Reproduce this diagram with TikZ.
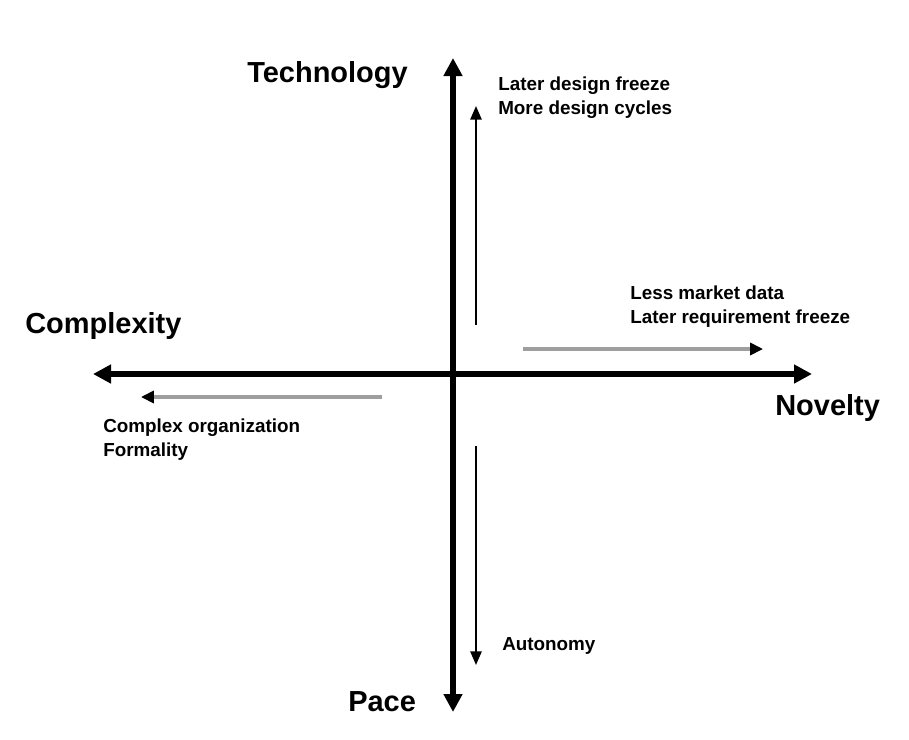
\documentclass[tikz,border=0pt]{standalone}
\usepackage{fontspec}
\setmainfont{Liberation Sans}
\usetikzlibrary{arrows.meta}

\begin{document}
\begin{tikzpicture}[
  x=0.025cm, y=-0.025cm,
  axis/.style={line width=3.6pt,
    {Triangle[length=0.45cm,width=0.45cm]}-{Triangle[length=0.45cm,width=0.45cm]}},
  trend/.style={line width=1.4pt,-{Triangle[length=0.34cm,width=0.28cm]}},
  market/.style={line width=2.2pt,draw=black!38,-{Triangle[length=0.32cm,width=0.3cm,color=black]}},
  axislabel/.style={font=\bfseries\fontsize{20.6}{24}\selectfont,inner sep=0,anchor=base west},
  note/.style={font=\bfseries\fontsize{13.4}{16.4}\selectfont,inner sep=0,align=left,anchor=north west}
  ]
\useasboundingbox (0,0) rectangle (909,739);

% axes
\coordinate (north) at (453,58);
\coordinate (south) at (453,712);
\coordinate (west) at (93,374);
\coordinate (east) at (812,374);
\draw[axis] (west) -- (east);
\draw[axis] (south) -- (north);

\node[axislabel] (tech) at (247,82) {Technology};
\node[axislabel] (cplx) at (25,333) {Complexity};
\node[axislabel] (nov) at (775,415) {Novelty};
\node[axislabel] (pace) at (348,711) {Pace};

% effects
\coordinate (up0) at (476,325);
\coordinate (up1) at (476,106);
\coordinate (dn0) at (476,446);
\coordinate (dn1) at (476,665);
\coordinate (rt0) at (523,349);
\coordinate (rt1) at (763,349);
\coordinate (lt0) at (382,397);
\coordinate (lt1) at (141,397);
\draw[trend] (up0) -- (up1);
\draw[trend] (dn0) -- (dn1);
\draw[market] (rt0) -- (rt1);
\draw[market] (lt0) -- (lt1);

\node[note] (design) at (498,77) {Later design freeze \\ More design cycles};
\node[note] (market) at (630,286) {Less market data \\ Later requirement freeze};
\node[note] (org) at (103,419) {Complex organization \\ Formality};
\node[note] (auto) at (502,637) {Autonomy};

\end{tikzpicture}
\end{document}
